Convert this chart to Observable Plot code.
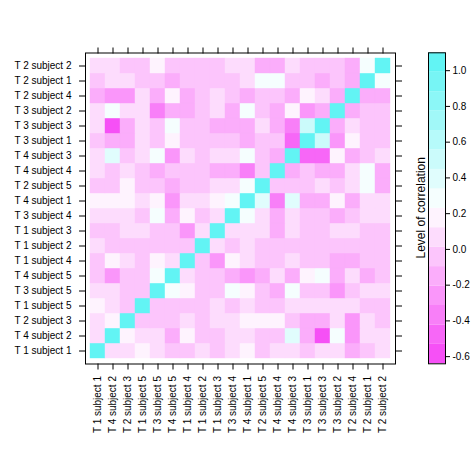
<!DOCTYPE html>
<html><head><meta charset="utf-8">
<script src="https://cdn.jsdelivr.net/npm/d3@7"></script>
<script src="https://cdn.jsdelivr.net/npm/@observablehq/plot@0.6"></script>
<style>
body{margin:0;background:#fff;font-family:"Liberation Sans",Arial,sans-serif}
#wrap{position:relative;width:474px;height:474px;background:#fff}
#wrap svg{position:absolute;left:0;top:0;background:transparent}
</style></head><body><div id="wrap"></div>
<script>
// Variables, in plotting order (bottom -> top, left -> right)
const labels = ["T 1 subject 1","T 4 subject 2","T 2 subject 3","T 1 subject 5","T 3 subject 5",
  "T 4 subject 5","T 1 subject 4","T 1 subject 2","T 1 subject 3","T 3 subject 4",
  "T 4 subject 1","T 2 subject 5","T 4 subject 4","T 4 subject 3","T 3 subject 1",
  "T 3 subject 3","T 3 subject 2","T 2 subject 4","T 2 subject 1","T 2 subject 2"];

// Correlation matrix, row j = labels[j], column i = labels[i]
const corr = [
 [1, 0.05, 0.05, 0.15, 0.08, 0.0, 0.0, 0.1, 0.0, 0.1, 0.15, 0.0, 0.1, 0.1, -0.05, 0.1, 0.08, -0.15, -0.05, 0.1],
 [0.08, 1, 0.18, 0.1, 0.1, -0.2, 0.18, 0.0, 0.0, 0.08, 0.12, -0.05, -0.05, 0.35, -0.15, -0.6, 0.28, -0.25, 0.1, 0.1],
 [0.1, 0.18, 1, 0.0, 0.0, 0.0, 0.1, 0.0, 0.1, 0.1, 0.18, 0.18, 0.15, 0.0, -0.15, -0.15, 0.1, -0.25, 0.12, 0.0],
 [0.18, 0.1, 0.0, 1, 0.0, 0.0, 0.0, 0.0, 0.1, -0.05, 0.1, 0.0, 0.0, 0.08, 0.08, 0.08, 0.08, 0.08, 0.0, 0.0],
 [0.1, 0.1, 0.0, 0.0, 1, 0.25, 0.15, 0.0, 0.0, 0.3, 0.18, 0.0, -0.1, 0.3, 0.0, 0.0, -0.3, -0.05, 0.1, 0.1],
 [0.0, -0.3, 0.0, 0.0, 0.25, 1, 0.1, 0.0, 0.0, -0.1, -0.25, -0.1, 0.05, -0.15, 0.22, 0.28, -0.15, 0.12, -0.1, 0.0],
 [0.0, 0.2, 0.12, 0.0, 0.18, 0.1, 1, 0.0, -0.3, 0.15, 0.12, 0.0, 0.0, 0.12, 0.0, 0.0, -0.1, -0.1, 0.0, 0.0],
 [0.08, 0.0, 0.0, 0.0, 0.0, 0.0, 0.0, 1, 0.08, 0.0, 0.08, 0.0, 0.0, 0.0, 0.0, 0.0, 0.0, 0.0, 0.0, 0.0],
 [-0.05, -0.05, 0.1, 0.1, 0.0, 0.0, -0.3, 0.1, 1, 0.1, 0.1, 0.1, -0.1, 0.1, 0.0, -0.05, 0.12, 0.12, 0.0, 0.0],
 [0.1, 0.1, 0.1, 0.0, 0.28, -0.1, 0.18, 0.0, 0.1, 1, 0.28, 0.1, -0.1, 0.1, 0.0, -0.05, -0.1, 0.0, 0.05, 0.1],
 [0.15, 0.15, 0.15, 0.1, 0.18, -0.3, 0.12, 0.1, 0.18, 0.3, 1, 0.4, -0.35, 0.35, -0.1, -0.1, 0.2, -0.1, 0.12, 0.12],
 [0.0, 0.0, 0.18, 0.0, 0.0, -0.1, 0.0, 0.0, 0.1, 0.1, 0.3, 1, 0.0, 0.0, 0.0, 0.1, 0.0, 0.1, 0.25, -0.2],
 [0.1, 0.0, 0.12, 0.0, -0.15, -0.05, 0.0, 0.0, -0.15, -0.15, -0.35, 0.0, 1, -0.1, 0.0, -0.1, -0.1, 0.1, 0.28, -0.15],
 [0.1, 0.35, -0.05, 0.1, 0.28, -0.25, 0.12, 0.0, 0.1, 0.1, 0.3, 0.0, -0.1, 1, -0.45, -0.45, 0.18, -0.15, 0.0, 0.1],
 [-0.05, -0.15, -0.2, 0.1, 0.0, 0.18, 0.0, 0.0, 0.0, 0.0, -0.1, 0.0, -0.05, -0.45, 1, 0.5, -0.25, 0.18, 0.0, 0.0],
 [0.1, -0.6, -0.2, 0.1, -0.05, 0.3, 0.0, 0.0, -0.1, -0.1, -0.1, 0.1, -0.1, -0.4, 0.5, 1, -0.15, 0.12, -0.05, 0.0],
 [0.1, 0.3, 0.1, 0.1, -0.35, -0.15, -0.1, 0.0, 0.1, -0.15, 0.3, 0.0, -0.1, 0.18, -0.3, -0.15, 1, -0.1, 0.0, 0.0],
 [-0.15, -0.3, -0.3, 0.1, -0.15, 0.18, -0.1, 0.0, 0.1, 0.0, -0.1, 0.0, 0.0, -0.15, 0.2, 0.12, -0.1, 1, -0.1, -0.1],
 [-0.05, 0.12, 0.12, 0.0, 0.0, -0.1, 0.0, 0.0, 0.0, 0.0, 0.1, 0.3, 0.3, 0.0, 0.0, -0.1, 0.0, -0.1, 1, 0.3],
 [0.12, 0.12, 0.0, 0.0, 0.15, 0.0, 0.0, 0.0, 0.0, 0.1, 0.1, -0.2, -0.15, 0.12, 0.0, 0.0, 0.0, -0.1, 0.3, 1]
];

// Colour key
const zLo = -0.64, zHi = 1.1, nBands = 16;
const keyTicks = [-0.6, -0.4, -0.2, 0.0, 0.2, 0.4, 0.6, 0.8, 1.0];
const keyTitle = "Level of correlation";
const lowCol = "#F650F6", midCol = "#FFFFFF", highCol = "#62F4F4";

const W = 474, H = 474;
const step = (zHi - zLo) / nBands;
const breaks = d3.range(1, nBands).map(k => zLo + k * step);
const interp = d3.piecewise(d3.interpolateRgb, [lowCol, midCol, highCol]);
const bandColors = d3.range(nBands).map(i => interp(i / (nBands - 1)));

const cells = [];
corr.forEach((row, j) => row.forEach((v, i) => cells.push({x: labels[i], y: labels[j], v})));

const font = "'Liberation Sans', Arial, sans-serif";

const main = Plot.plot({
  width: W, height: H,
  marginLeft: 85, marginRight: 79, marginTop: 52.5, marginBottom: 110.5,
  style: {fontFamily: font, fontSize: "10px", background: "transparent", color: "#000"},
  x: {type: "band", domain: labels, padding: 0, label: null},
  y: {type: "band", domain: labels.slice().reverse(), padding: 0, label: null},
  color: {type: "threshold", domain: breaks, range: bandColors},
  marks: [
    Plot.cell(cells, {x: "x", y: "y", fill: "v", stroke: "v", strokeWidth: 0.4, inset: 0}),
    Plot.frame({stroke: "#000", strokeWidth: 1}),
    Plot.axisY({anchor: "left", tickSize: 6, tickPadding: 8, label: null}),
    Plot.axisY({anchor: "right", tickSize: 6, tickFormat: () => "", label: null}),
    Plot.axisX({anchor: "bottom", tickSize: 6, tickPadding: 6, tickRotate: -90, label: null}),
    Plot.axisX({anchor: "top", tickSize: 6, tickFormat: () => "", label: null})
  ]
});

const bands = d3.range(nBands).map(i => ({y1: zLo + i * step, y2: zLo + (i + 1) * step, c: bandColors[i]}));
const bar = Plot.plot({
  width: W, height: H,
  marginLeft: 428, marginRight: 29, marginTop: 52.3, marginBottom: 110.7,
  style: {fontFamily: font, fontSize: "10px", background: "transparent", color: "#000"},
  x: {domain: [0, 1], axis: null},
  y: {domain: [zLo, zHi], axis: null},
  color: {type: "identity"},
  marks: [
    Plot.rect(bands, {x1: d => 0, x2: d => 1, y1: "y1", y2: "y2", fill: "c"}),
    Plot.frame({stroke: "#000", strokeWidth: 1}),
    Plot.axisY(keyTicks, {anchor: "right", tickSize: 4, tickPadding: 3, tickFormat: d => d.toFixed(1), label: null})
  ]
});
d3.select(bar).append("text")
  .attr("transform", `translate(425,${(52.3 + 363.3) / 2}) rotate(-90)`)
  .attr("text-anchor", "middle")
  .attr("fill", "#000")
  .style("font-family", font)
  .style("font-size", "12px")
  .text(keyTitle);

const wrap = document.getElementById("wrap");
wrap.appendChild(main);
wrap.appendChild(bar);
</script></body></html>
